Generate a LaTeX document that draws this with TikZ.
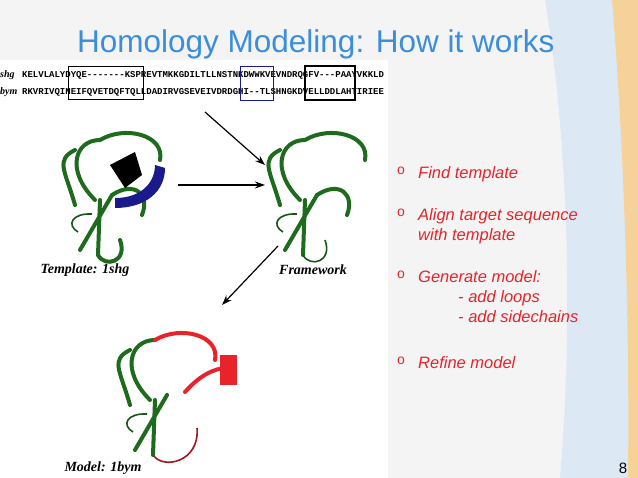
\documentclass[tikz,border=0pt]{standalone}
\usepackage{fontspec}
\setmainfont{Liberation Serif}
\setsansfont{Liberation Sans}
\setmonofont{Liberation Mono}
\usetikzlibrary{arrows.meta}
\definecolor{bg}{HTML}{F4F4F4}
\definecolor{ttl}{HTML}{3B8EDC}
\definecolor{rd}{HTML}{E8232A}
\definecolor{gr}{HTML}{1E6B1E}
\definecolor{lb}{HTML}{DCE9F5}
\definecolor{orr}{HTML}{F6D29A}
\definecolor{nv}{HTML}{1A1A8C}
\tikzset{
 seq/.style={font=\ttfamily\bfseries\fontsize{9}{10}\selectfont, anchor=west, inner sep=0},
 lab/.style={font=\rmfamily\bfseries\itshape\fontsize{14}{16}\selectfont, inner sep=0},
 bul/.style={font=\sffamily\itshape\fontsize{16.5}{20}\selectfont, text=rd, anchor=north west, inner sep=0, align=left},
 arr/.style={-{Stealth[length=10pt,width=7pt]}, line width=1.2pt},
 rib/.style={draw=gr, line width=4pt, line cap=round},
 thin/.style={draw=gr!80!black, line width=1.6pt},
}
\begin{document}
\begin{tikzpicture}[x=1pt,y=-1pt]
\useasboundingbox (0,0) rectangle (638,478);
\fill[bg] (0,0) rectangle (638,478);
\fill[lb] (545,0) .. controls (565,120) and (575,300) .. (560,478) -- (638,478) -- (638,0) -- cycle;
\fill[orr] (612,0) .. controls (622,120) and (630,300) .. (628,478) -- (638,478) -- (638,0) -- cycle;
\fill[white] (0,60) rectangle (388,478);
\node[font=\sffamily\fontsize{31.5}{34}\selectfont, text=ttl, anchor=west, inner sep=0] (title) at (77,44) {Homology Modeling: How it works};
% sequences
\node[lab, anchor=west, font=\rmfamily\bfseries\itshape\fontsize{10}{11}\selectfont] (s1) at (0,75) {shg};
\node[lab, anchor=west, font=\rmfamily\bfseries\itshape\fontsize{10}{11}\selectfont] (s2) at (0,92) {bym};
\node[seq] (q1) at (22,75) {KELVLALYDYQE-------KSPREVTMKKGDILTLLNSTNKDWWKVEVNDRQGFV---PAAYVKKLD};
\node[seq] (q2) at (22,92) {RKVRIVQINEIFQVETDQFTQLLDADIRVGSEVEIVDRDGHI--TLSHNGKDVELLDDLAHTIRIEE};
\draw[line width=1pt] (68,67) rectangle (143,100);
\draw[nv, line width=0.8pt] (240,66) rectangle (273,100);
\draw[line width=1.6pt] (305,66) rectangle (355,100);
% template protein
\begin{scope}
\draw[rib] (95,200) .. controls (65,170) and (75,140) .. (100,140) .. controls (125,125) and (165,135) .. (160,160);
\draw[rib] (75,205) .. controls (65,170) and (55,160) .. (75,150);
\draw[rib] (80,250) -- (112,195) (98,255) -- (100,200);
\draw[rib] (112,195) .. controls (135,180) and (150,195) .. (142,215);
\draw[rib] (98,255) .. controls (105,268) and (128,262) .. (120,240);
\fill[black] (110,165) -- (135,152) -- (142,175) -- (125,188) -- cycle;
\fill[nv] (115,198) .. controls (142,198) and (155,182) .. (155,165) -- (165,168) .. controls (165,192) and (145,208) .. (115,208) -- cycle;
\draw[thin] (78,232) .. controls (66,225) and (72,213) .. (92,214);
\end{scope}
% framework
\begin{scope}[xshift=205]
\draw[rib] (95,200) .. controls (65,170) and (75,140) .. (100,140) .. controls (125,125) and (165,135) .. (160,160);
\draw[rib] (75,205) .. controls (65,170) and (55,160) .. (75,150);
\draw[rib] (80,250) -- (112,195) (98,255) -- (100,200);
\draw[rib] (112,195) .. controls (135,180) and (150,195) .. (142,215);
\draw[thin] (98,255) .. controls (105,268) and (128,262) .. (120,240);
\draw[thin] (78,232) .. controls (66,225) and (72,213) .. (92,214);
\end{scope}
% model
\begin{scope}[xshift=55, yshift=-200]
\draw[rib] (95,200) .. controls (65,170) and (75,140) .. (100,140);
\draw[rib,draw=rd] (100,140) .. controls (125,125) and (165,135) .. (160,160);
\draw[rib] (75,205) .. controls (65,170) and (55,160) .. (75,150);
\draw[rib] (80,250) -- (112,195) (98,255) -- (100,200);
\draw[rib,draw=rd] (130,192) .. controls (145,175) and (160,168) .. (172,168);
\fill[rd] (165,155) rectangle (182,185);
\draw[thin,draw=rd!70!black] (98,255) .. controls (108,270) and (145,262) .. (142,228);
\draw[thin] (78,232) .. controls (66,225) and (72,213) .. (92,214);
\end{scope}
% labels
\node[lab] (t) at (85,270) {Template: 1shg};
\node[lab] (f) at (313,270) {Framework};
\node[lab] (m) at (103,468) {Model: 1bym};
\coordinate (a1) at (205,112); \coordinate (a1e) at (265,165);
\coordinate (a2) at (178,185); \coordinate (a2e) at (265,185);
\coordinate (a3) at (278,246); \coordinate (a3e) at (222,305);
\draw[arr] (a1) -- (a1e);
\draw[arr] (a2) -- (a2e);
\draw[arr] (a3) -- (a3e);
% bullets
\foreach \y/\n in {167/b1,209/b2,271/b3,357/b4}
  \node[font=\sffamily\fontsize{14}{16}\selectfont, text=rd, anchor=north west, inner sep=0] (o\n) at (397,\y) {o};
\node[bul] (b1) at (418,166) {Find template};
\node[bul] (b2) at (418,208) {Align target sequence\\with template};
\node[bul] (b3) at (418,270) {Generate model:\\\hspace{40pt}- add loops\\\hspace{40pt}- add sidechains};
\node[bul] (b4) at (418,356) {Refine model};
\node[font=\sffamily\fontsize{15}{16}\selectfont, inner sep=0] (pg) at (623,468) {8};
\end{tikzpicture}
\end{document}
